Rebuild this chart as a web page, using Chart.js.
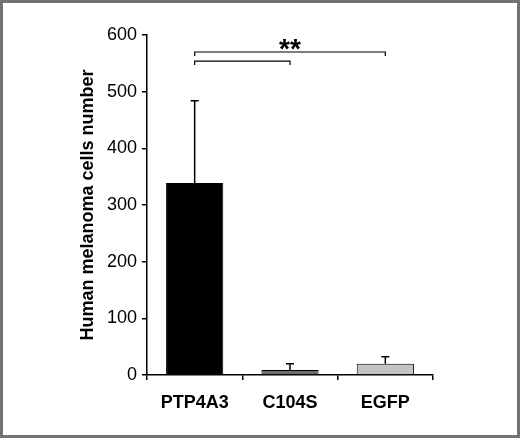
<!DOCTYPE html>
<html>
<head>
<meta charset="utf-8">
<script src="https://cdn.jsdelivr.net/npm/chart.js@4/dist/chart.umd.min.js"></script>
<style>
  html, body { margin: 0; padding: 0; background: #fff; }
  #frame {
    width: 520px; height: 438px; box-sizing: border-box;
    border: 3px solid #737373; background: #fff;
  }
  #chart { display: block; }
</style>
</head>
<body>
<div id="frame"><canvas id="chart" width="514" height="432"></canvas></div>
<script>
// ----------------------------
// Data
// ----------------------------
const groups = ['PTP4A3', 'C104S', 'EGFP'];
const cellCounts = [339, 9, 20];
const cellErrors = [145, 11, 12];
const barColors = ['#000000', '#6e6e6e', '#c4c4c4'];
const yTicks = [0, 100, 200, 300, 400, 500, 600];

// significance brackets: from group index, to group index, height in data units
const bracketFrom = [0, 0];
const bracketTo = [2, 1];
const bracketLevel = [570, 554];
const starLabel = '**';
const starLevel = 559;

const FONT = '"Liberation Sans", Arial, sans-serif';

// error bars (upper only) and significance brackets
const annotationsPlugin = {
  id: 'annotations',
  afterDatasetsDraw(chart) {
    const { ctx } = chart;
    const yScale = chart.scales.y;
    const bars = chart.getDatasetMeta(0).data;

    ctx.save();
    ctx.strokeStyle = '#000';
    ctx.lineWidth = 1.5;

    bars.forEach((bar, i) => {
      const top = yScale.getPixelForValue(cellCounts[i] + cellErrors[i]);
      ctx.beginPath();
      ctx.moveTo(bar.x, bar.y);
      ctx.lineTo(bar.x, top);
      ctx.moveTo(bar.x - 4, top);
      ctx.lineTo(bar.x + 4, top);
      ctx.stroke();
    });

    ctx.lineWidth = 1.2;
    bracketLevel.forEach((lvl, k) => {
      const y = yScale.getPixelForValue(lvl);
      const x1 = bars[bracketFrom[k]].x;
      const x2 = bars[bracketTo[k]].x;
      ctx.beginPath();
      ctx.moveTo(x1, y + 4);
      ctx.lineTo(x1, y);
      ctx.lineTo(x2, y);
      ctx.lineTo(x2, y + 4);
      ctx.stroke();
    });

    const xa = bars[bracketFrom[0]].x, xb = bars[bracketTo[0]].x;
    ctx.fillStyle = '#000';
    ctx.font = 'bold 28px ' + FONT;
    ctx.textAlign = 'center';
    ctx.textBaseline = 'alphabetic';
    ctx.fillText(starLabel, (xa + xb) / 2, yScale.getPixelForValue(starLevel));
    ctx.restore();
  }
};

new Chart(document.getElementById('chart'), {
  type: 'bar',
  data: {
    labels: groups,
    datasets: [{
      data: cellCounts,
      backgroundColor: barColors,
      borderColor: '#000',
      borderWidth: 1,
      categoryPercentage: 1,
      barPercentage: 0.6
    }]
  },
  options: {
    responsive: false,
    animation: false,
    layout: { padding: { left: 70, right: 84, top: 32, bottom: 0 } },
    plugins: { legend: { display: false }, tooltip: { enabled: false } },
    scales: {
      x: {
        afterFit: (scale) => { scale.height = 60; },
        grid: { drawOnChartArea: false, color: '#000', tickLength: 5, lineWidth: 1.5, offset: true },
        border: { color: '#000', width: 1.5 },
        ticks: { color: '#000', padding: 12, font: { family: FONT, size: 18, weight: 'bold' } }
      },
      y: {
        min: 0,
        max: 600,
        afterFit: (scale) => { scale.width = 74; },
        afterBuildTicks: (scale) => { scale.ticks = yTicks.map(v => ({ value: v })); },
        grid: { drawOnChartArea: false, color: '#000', tickLength: 5, lineWidth: 1.5 },
        border: { color: '#000', width: 1.5 },
        ticks: { color: '#000', padding: 5, font: { family: FONT, size: 18 } },
        title: {
          display: true,
          text: 'Human melanoma cells number',
          color: '#000',
          font: { family: FONT, size: 18, weight: 'bold' }
        }
      }
    }
  },
  plugins: [annotationsPlugin]
});
</script>
</body>
</html>
